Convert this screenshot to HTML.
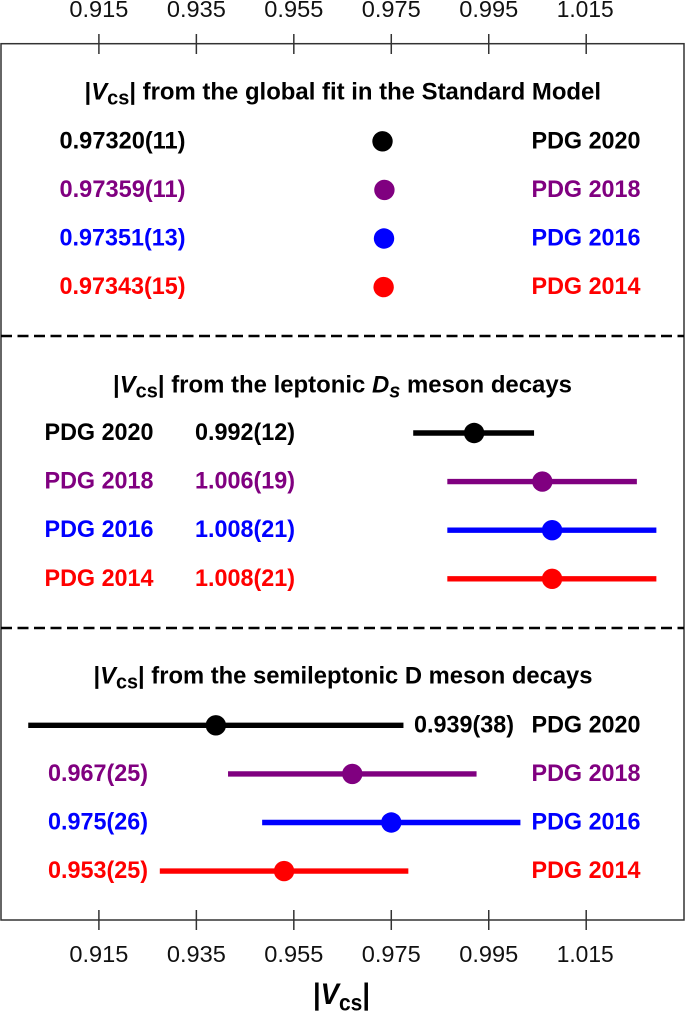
<!DOCTYPE html>
<html>
<head>
<meta charset="utf-8">
<title>Vcs comparison</title>
<style>
html,body{margin:0;padding:0;background:#fff;width:685px;height:1011px;overflow:hidden}
svg{display:block;font-family:"Liberation Sans",sans-serif}
.t{font-weight:bold;font-size:24px;fill:#000}
</style>
</head>
<body>
<svg id="chart" xmlns="http://www.w3.org/2000/svg" width="685" height="1011" viewBox="0 0 685 1011">
  <rect x="1" y="43.7" width="683" height="876.3" fill="none" stroke="#333" stroke-width="1.5"/>
  <line x1="1" x2="684" y1="336" y2="336" stroke="#000" stroke-width="2.5" stroke-dasharray="11 5.5"/>
  <line x1="1" x2="684" y1="628" y2="628" stroke="#000" stroke-width="2.5" stroke-dasharray="11 5.5"/>

  <text class="t" x="84.5" y="99.3" textLength="516.5" lengthAdjust="spacingAndGlyphs">|<tspan font-style="italic">V</tspan><tspan font-size="20" dy="5">cs</tspan><tspan dy="-5">| from the global fit in the Standard Model</tspan></text>
  <text class="t" x="113" y="392.3" textLength="459" lengthAdjust="spacingAndGlyphs">|<tspan font-style="italic">V</tspan><tspan font-size="20" dy="5">cs</tspan><tspan dy="-5">| from the leptonic </tspan><tspan font-style="italic">D</tspan><tspan font-size="20" font-style="italic" dy="5">s</tspan><tspan dy="-5"> meson decays</tspan></text>
  <text class="t" x="93.5" y="683.3" textLength="499" lengthAdjust="spacingAndGlyphs">|<tspan font-style="italic">V</tspan><tspan font-size="20" dy="5">cs</tspan><tspan dy="-5">| from the semileptonic D meson decays</tspan></text>
  <text x="313" y="1004" font-size="30" font-weight="bold" textLength="57" lengthAdjust="spacingAndGlyphs">|<tspan font-style="italic">V</tspan><tspan font-size="23" dy="6.3">cs</tspan><tspan dy="-6.3">|</tspan></text>
</svg>
<script>
const tickValues = [0.915, 0.935, 0.955, 0.975, 0.995, 1.015];
const tickLabels = ["0.915", "0.935", "0.955", "0.975", "0.995", "1.015"];
const editions = ["PDG 2020", "PDG 2018", "PDG 2016", "PDG 2014"];

const globalValues = [0.97320, 0.97359, 0.97351, 0.97343];
const globalLabels = ["0.97320(11)", "0.97359(11)", "0.97351(13)", "0.97343(15)"];

const leptonicValues = [0.992, 1.006, 1.008, 1.008];
const leptonicLow = [0.9795, 0.9865, 0.9865, 0.9865];
const leptonicHigh = [1.0043, 1.0254, 1.0294, 1.0294];
const leptonicLabels = ["0.992(12)", "1.006(19)", "1.008(21)", "1.008(21)"];

const semiValues = [0.939, 0.967, 0.975, 0.953];
const semiLow = [0.9005, 0.9415, 0.9485, 0.9275];
const semiHigh = [0.9775, 0.9925, 1.0015, 0.9785];
const semiLabels = ["0.939(38)", "0.967(25)", "0.975(26)", "0.953(25)"];

const colors = ["#000000", "#800080", "#0000ff", "#ff0000"];

const svg = document.getElementById('chart');
const NS = 'http://www.w3.org/2000/svg';
const xScale = v => 98.9 + (v - 0.915) * 4873;
const rowY = (top, i) => top + 48.6 * i;

function shape(tag, name) {
  const el = document.createElementNS(NS, tag);
  
  
  svg.appendChild(el);
  return el;
}
function label(name, str, x, y, w, color, bold) {
  const el = shape('text', name);
  el.setAttribute('x', x);
  el.setAttribute('y', y);
  el.setAttribute('textLength', w);
  el.setAttribute('lengthAdjust', 'spacingAndGlyphs');
  el.setAttribute('fill', color);
  el.setAttribute('font-size', bold ? 24 : 23.5);
  if (bold) el.setAttribute('font-weight', 'bold');
  el.textContent = str;
  return el;
}
function tick(name, v, y1, y2) {
  const el = shape('line', name);
  const x = xScale(v);
  el.setAttribute('x1', x);
  el.setAttribute('x2', x);
  el.setAttribute('y1', y1);
  el.setAttribute('y2', y2);
  el.setAttribute('stroke', '#333');
  el.setAttribute('stroke-width', 1.5);
}
function interval(name, lo, hi, y, color) {
  const el = shape('line', name);
  el.setAttribute('x1', xScale(lo));
  el.setAttribute('x2', xScale(hi));
  el.setAttribute('y1', y);
  el.setAttribute('y2', y);
  el.setAttribute('stroke', color);
  el.setAttribute('stroke-width', 5.4);
}
function dot(name, v, y, color) {
  const el = shape('circle', name);
  el.setAttribute('cx', xScale(v));
  el.setAttribute('cy', y);
  el.setAttribute('r', 10.2);
  el.setAttribute('fill', color);
}

tickValues.forEach((v, i) => {
  tick('top-tick-' + tickLabels[i], v, 34, 54);
  tick('bottom-tick-' + tickLabels[i], v, 910, 930);
  label('top-tick-label-' + tickLabels[i], tickLabels[i], xScale(v) - 29.5, 17, tickLabels[i] === '1.015' ? 57 : 59, '#111', false);
  label('bottom-tick-label-' + tickLabels[i], tickLabels[i], xScale(v) - 29.5, 962, tickLabels[i] === '1.015' ? 57 : 59, '#111', false);
});

globalValues.forEach((v, i) => {
  const y = rowY(141.3, i);
  dot('global-marker-' + i, v, y, colors[i]);
  label('global-value-' + i, globalLabels[i], 59.5, y + 7, 126, colors[i], true);
  label('global-edition-' + i, editions[i], 531.5, y + 7, 109, colors[i], true);
});

leptonicValues.forEach((v, i) => {
  const y = rowY(433, i);
  interval('leptonic-interval-' + i, leptonicLow[i], leptonicHigh[i], y, colors[i]);
  dot('leptonic-marker-' + i, v, y, colors[i]);
  label('leptonic-edition-' + i, editions[i], 44.5, y + 7, 109, colors[i], true);
  label('leptonic-value-' + i, leptonicLabels[i], 195, y + 7, 100, colors[i], true);
});

semiValues.forEach((v, i) => {
  const y = rowY(725.3, i);
  interval('semileptonic-interval-' + i, semiLow[i], semiHigh[i], y, colors[i]);
  dot('semileptonic-marker-' + i, v, y, colors[i]);
  label('semileptonic-value-' + i, semiLabels[i], i === 0 ? 414 : 48, y + 7, 100, colors[i], true);
  label('semileptonic-edition-' + i, editions[i], 531.5, y + 7, 109, colors[i], true);
});
</script>
</body>
</html>
